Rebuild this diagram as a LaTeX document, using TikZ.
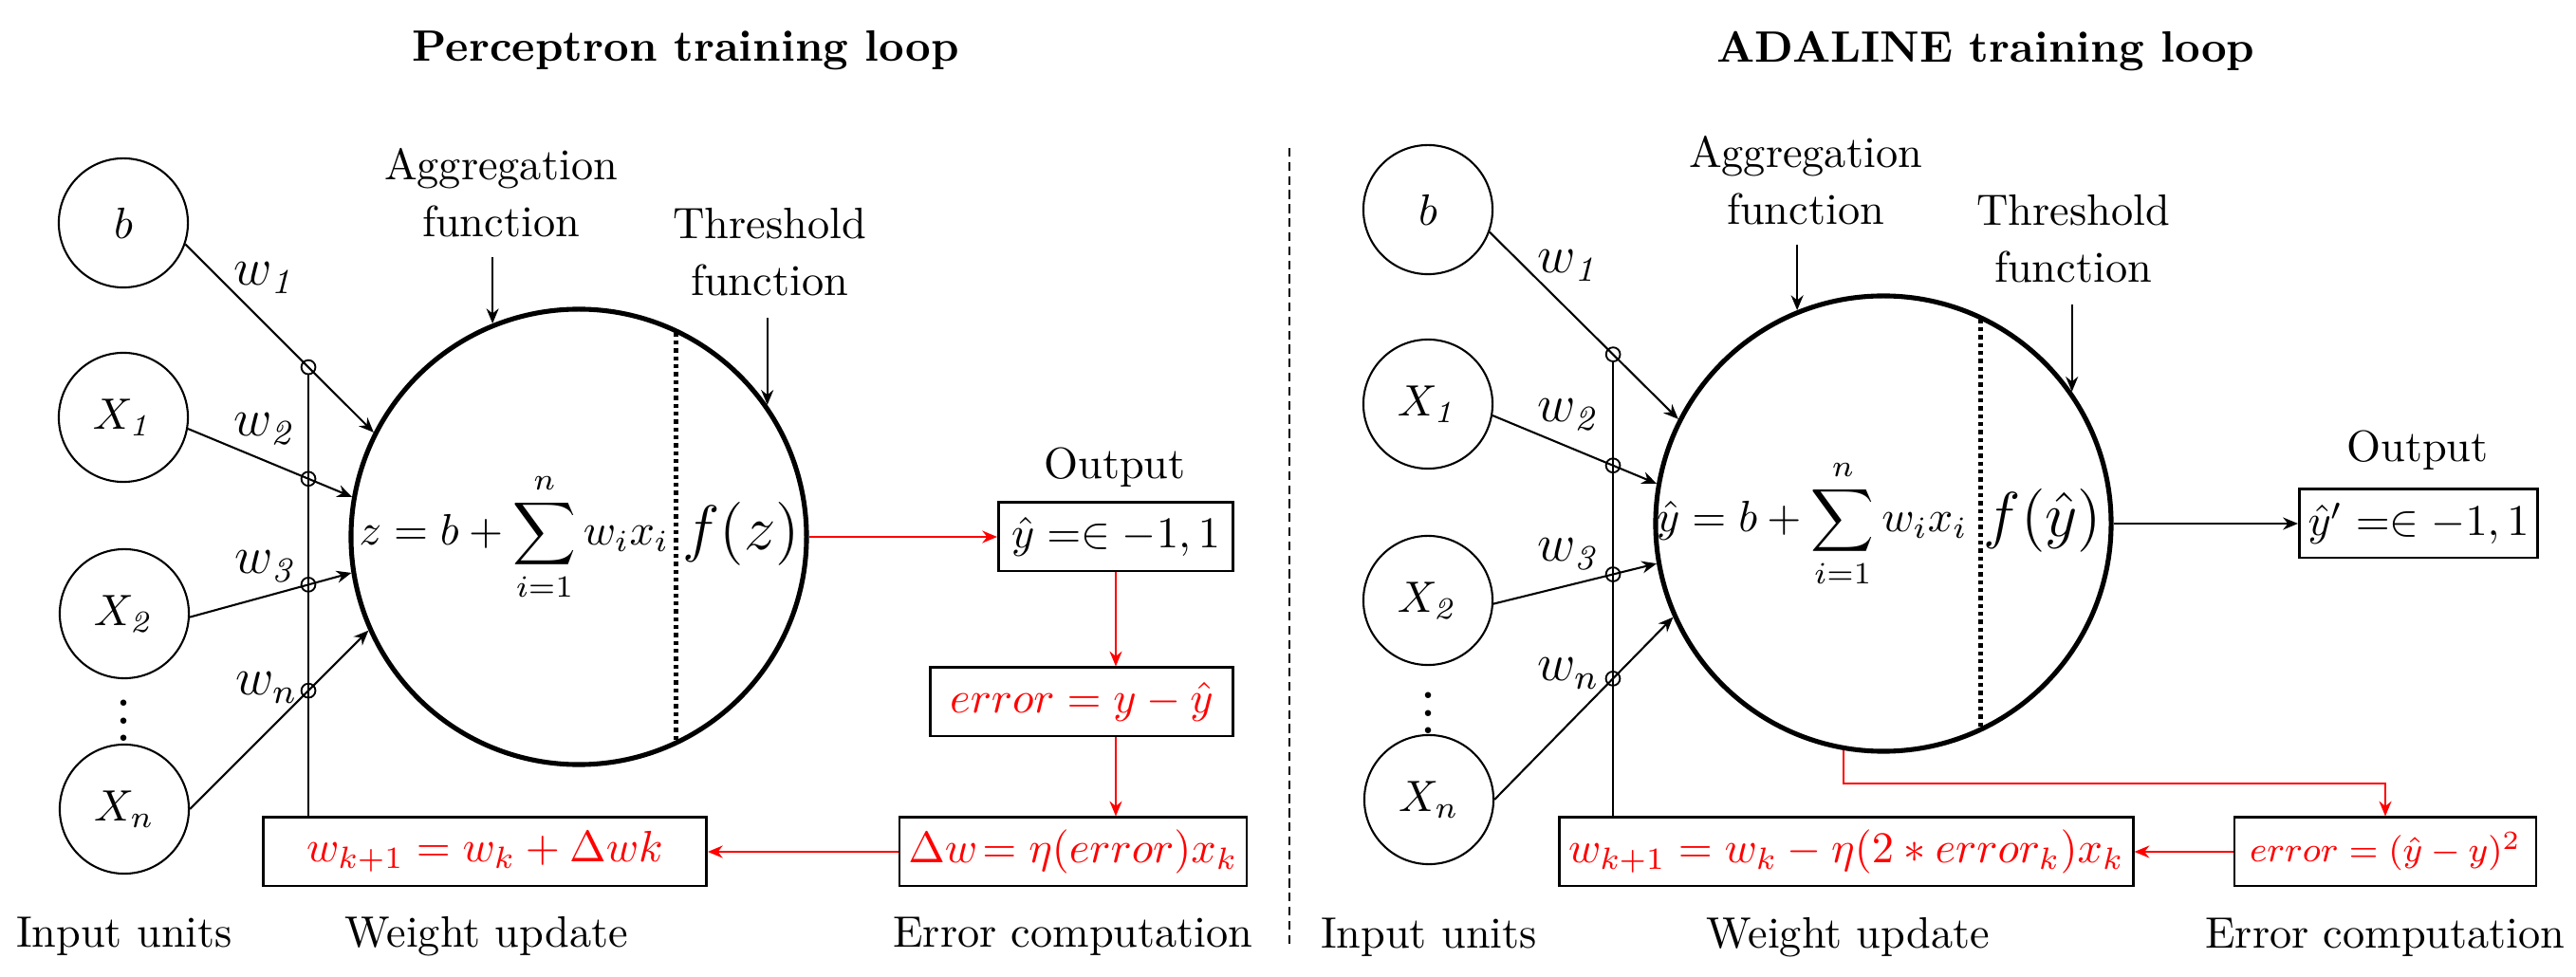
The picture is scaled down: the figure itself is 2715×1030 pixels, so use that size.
\documentclass[tikz,border=0pt]{standalone}
\usepackage{amsmath}
\usetikzlibrary{arrows.meta,calc}
\begin{document}
\begin{tikzpicture}[x=0.216pt,y=-0.216pt,
  inp/.style={circle,draw,line width=0.45pt,minimum size=29.4pt,inner sep=0pt},
  neuron/.style={circle,draw,line width=1.1pt,minimum size=103.7pt,inner sep=0pt},
  jn/.style={circle,draw,line width=0.4pt,minimum size=3.2pt,inner sep=0pt},
  bx/.style={draw,line width=0.6pt,minimum height=15.6pt,inner sep=2pt},
  lab/.style={align=center,inner sep=0pt},
  wl/.style={font=\large,inner sep=0pt},
  vd/.style={font=\Large,inner sep=0pt},
  arr/.style={-{Stealth[length=3.4pt,width=2.8pt]},line width=0.45pt},
  rarr/.style={arr,red,line width=0.5pt},
  dotline/.style={line width=1pt,dash pattern=on 0.9pt off 0.9pt,shorten <=1pt,shorten >=1pt},
  divline/.style={line width=0.5pt,dash pattern=on 2pt off 1.2pt},
  wire/.style={line width=0.45pt}]
\useasboundingbox (0,0) rectangle (2715,1030);

% ---------------- titles
\node[font=\bfseries] (t1) at (723,53) {Perceptron training loop};
\node[font=\bfseries] (t2) at (2093,54) {ADALINE training loop};

% ---------------- divider
\coordinate (dvt) at (1359,156);
\coordinate (dvb) at (1359,999);
\draw[divline] (dvt) -- (dvb);

% ================= LEFT PANEL
\node[inp] (b) at (130,235) {$b$};
\node[inp] (x1) at (130,440) {$X_{\mathit{1}}$};
\node[inp] (x2) at (131,647) {$X_{\mathit{2}}$};
\node[inp] (xn) at (131,853) {$X_n$};
\node[vd] (dots) at (131,746) {$\vdots$};

\node[neuron] (P) at (610,566) {};
\node (eq) at (542,566) {$z = b + \displaystyle\sum_{i=1}^{n} w_i x_i$};
\node[font=\Large] (fz) at (781,563) {$f(z)$};
\draw[dotline] (P.65) -- (P.-65);

\coordinate (vt) at (325,300);
\coordinate (vb) at (325,950);
\coordinate (j1) at (intersection of b.-19--P.153 and vt--vb);
\coordinate (j2) at (intersection of x1.-10--P.170 and vt--vb);
\coordinate (j3) at (intersection of x2.-3--P.189 and vt--vb);
\coordinate (j4) at (intersection of xn.east--P.204 and vt--vb);

\draw[arr] (b.-19) -- (P.153);
\draw[arr] (x1.-10) -- (P.170);
\draw[arr] (x2.-3) -- (P.189);
\draw[arr] (xn.east) -- (P.204);

\node[wl] (w1) at (280,293) {$w_{\mathit{1}}$};
\node[wl] (w2) at (280,452) {$w_{\mathit{2}}$};
\node[wl] (w3) at (281,597) {$w_{\mathit{3}}$};
\node[wl] (wn) at (281,725) {$w_n$};

\node[lab] (agg) at (528,203) {Aggregation\\[1pt]function};
\draw[arr] ($(P.112 |- agg.south)+(0,20)$) -- (P.112);
\node[lab] (thr) at (811,266) {Threshold\\[1pt]function};
\draw[arr] ($(P.35 |- thr.south)+(0,22)$) -- (P.35);

\node (outl) at (1175,493) {Output};
\node[bx,minimum width=53.4pt] (out) at (1176,566) {$\hat{y} =\in -1,1$};
\draw[rarr] (P.east) -- (out.west);

\node[bx,minimum width=68.9pt,text=red] (err) at (1140,740) {$error = y - \hat{y}$};
\node[bx,minimum width=72.4pt,text=red] (dw) at (1131,898) {$\Delta w\!= \eta(error)x_k$};
\node[bx,minimum width=100.9pt,text=red] (wu) at (511,898) {$w_{k+1} = w_k + \Delta wk$};
\draw[rarr] (out.south) -- (out.south |- err.north);
\draw[rarr] (out.south |- err.south) -- (out.south |- dw.north);
\draw[rarr] (dw.west) -- (wu.east);

\node[jn] (s1) at (j1) {};
\node[jn] (s2) at (j2) {};
\node[jn] (s3) at (j3) {};
\node[jn] (s4) at (j4) {};
\draw[wire] (s1.south) -- (s1.south |- wu.north);

\node (l1) at (131,987) {Input units};
\node (l2) at (513,987) {Weight update};
\node (l3) at (1131,987) {Error computation};

% ================= RIGHT PANEL
\node[inp] (rb) at (1505,221) {$b$};
\node[inp] (rx1) at (1505,426) {$X_{\mathit{1}}$};
\node[inp] (rx2) at (1505,633) {$X_{\mathit{2}}$};
\node[inp] (rxn) at (1506,843) {$X_n$};
\node[vd] (rdots) at (1506,738) {$\vdots$};

\node[neuron] (Q) at (1985,552) {};
\node (req) at (1910,552) {$\hat{y} = b + \displaystyle\sum_{i=1}^{n} w_i x_i$};
\node[font=\Large] (rfz) at (2153,549) {$f(\hat{y})$};
\draw[dotline] (Q.65) -- (Q.-65);

\coordinate (rvt) at (1700,300);
\coordinate (rvb) at (1700,950);
\coordinate (rj1) at (intersection of rb.-20--Q.153 and rvt--rvb);
\coordinate (rj2) at (intersection of rx1.-10--Q.170 and rvt--rvb);
\coordinate (rj3) at (intersection of rx2.-3--Q.190 and rvt--rvb);
\coordinate (rj4) at (intersection of rxn.east--Q.204 and rvt--rvb);

\draw[arr] (rb.-20) -- (Q.153);
\draw[arr] (rx1.-10) -- (Q.170);
\draw[arr] (rx2.-3) -- (Q.190);
\draw[arr] (rxn.east) -- (Q.204);

\node[wl] (rw1) at (1654,280) {$w_{\mathit{1}}$};
\node[wl] (rw2) at (1654,437) {$w_{\mathit{2}}$};
\node[wl] (rw3) at (1654,584) {$w_{\mathit{3}}$};
\node[wl] (rwn) at (1653,710) {$w_n$};

\node[lab] (ragg) at (1903,190) {Aggregation\\[1pt]function};
\draw[arr] ($(Q.112 |- ragg.south)+(0,20)$) -- (Q.112);
\node[lab] (rthr) at (2185,252) {Threshold\\[1pt]function};
\draw[arr] ($(Q.35 |- rthr.south)+(0,22)$) -- (Q.35);

\node (routl) at (2548,475) {Output};
\node[bx,minimum width=53.4pt] (rout) at (2549,552) {$\hat{y}' =\in -1,1$};
\draw[arr] (Q.east) -- (rout.west);

\node[bx,minimum width=68.7pt,text=red,font=\footnotesize] (rerr) at (2514,898) {$error = (\hat{y} - y)^2$};
\node[bx,minimum width=126.8pt,text=red] (rwu) at (1946,898) {$w_{k+1} = w_k - \eta(2*error_k)x_k$};
\draw[rarr] (Q.260) -- (Q.260 |- 0,826) -| (rerr.north);
\draw[rarr] (rerr.west) -- (rwu.east);

\node[jn] (rs1) at (rj1) {};
\node[jn] (rs2) at (rj2) {};
\node[jn] (rs3) at (rj3) {};
\node[jn] (rs4) at (rj4) {};
\draw[wire] (rs1.south) -- (rs1.south |- rwu.north);

\node (rl1) at (1506,988) {Input units};
\node (rl2) at (1948,988) {Weight update};
\node (rl3) at (2514,988) {Error computation};
\end{tikzpicture}
\end{document}
